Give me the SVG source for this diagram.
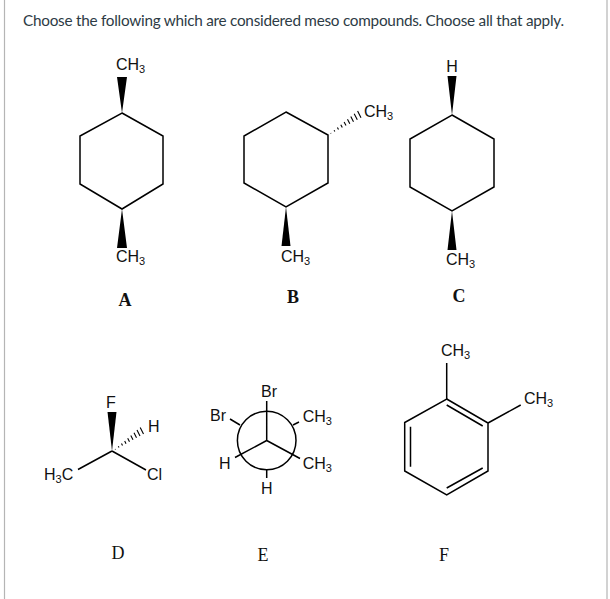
<svg xmlns="http://www.w3.org/2000/svg" width="610" height="599" viewBox="0 0 610 599">
<style>
.b{fill:none;stroke:#000;stroke-width:1.5;stroke-linejoin:miter}
.h{fill:none;stroke:#000;stroke-width:1.1}
.t{font-family:"Liberation Sans",Arial,sans-serif;font-size:16px;fill:#111}
.s{font-size:11px}
.l{font-family:"Liberation Serif","Times New Roman",serif;font-size:18px;fill:#111;text-anchor:middle}
.bd{font-weight:bold}
.q{font-family:Lato,"Open Sans",sans-serif;font-size:15.3px;fill:#2d3b45}
</style>
<rect width="610" height="599" fill="#fff"/>
<path d="M4.500 0V599M607 0V599" fill="none" stroke="#b5b5b5" stroke-width="1.200"/>
<text class="q" x="23" y="26" textLength="541" lengthAdjust="spacing">Choose the following which are considered meso compounds. Choose all that apply.</text>

<g id="A">
<path class="b" d="M122 113L163 136V184L122 209L80 184V136Z"/>
<path d="M122 113L117 77H127ZM122 209L117 248H127Z"/>
<text class="t" x="116" y="69.500">CH<tspan class="s" dy="3">3</tspan></text>
<text class="t" x="116" y="262">CH<tspan class="s" dy="3">3</tspan></text>
<text class="l bd" x="125" y="306">A</text>
</g>

<g id="B">
<path class="b" d="M286 112L328 135V183L286 207L244 183V136Z"/>
<path d="M286 207L281.500 246H290.500Z"/>
<path class="h" d="M331 133.500l-.3-.6M334.800 131.500l-.7-1.300M338.500 129.500l-1.100-2.100M342.300 127.600l-1.500-2.900M346 125.600l-1.900-3.700M349.800 123.700l-2.300-4.500M353.500 121.700l-2.700-5.300M357.300 119.800l-3.100-6.100M361 117.800l-3.400-6.800"/>
<text class="t" x="364" y="117">CH<tspan class="s" dy="3">3</tspan></text>
<text class="t" x="281" y="262">CH<tspan class="s" dy="3">3</tspan></text>
<text class="l bd" x="293" y="303">B</text>
</g>

<g id="C">
<path class="b" d="M452 115L494 139V187L452 211L410 187V139Z"/>
<path d="M452 115L447.500 76H456.500ZM452 211L447.500 250H456.500Z"/>
<text class="t" x="452" y="72" text-anchor="middle">H</text>
<text class="t" x="446" y="265">CH<tspan class="s" dy="3">3</tspan></text>
<text class="l bd" x="459" y="302">C</text>
</g>

<g id="D">
<path class="b" d="M112 451L78 469.500M112 451L146 470"/>
<path d="M112 451L107.500 412H116.500Z"/>
<path class="h" d="M115.500 449.500l-.3-.6M119 447.500l-.7-1.300M122.500 445.600l-1-2M126 443.700l-1.300-2.800M129.500 441.700l-1.800-3.500M133 439.800l-2.200-4.300M136.500 437.800l-2.500-5M140 435.900l-3-5.800M143.500 433.900l-3.300-6.500"/>
<text class="t" x="111" y="407.500" text-anchor="middle">F</text>
<text class="t" x="148" y="432">H</text>
<text class="t" x="44" y="480">H<tspan class="s" dy="3">3</tspan><tspan dy="-3">C</tspan></text>
<text class="t" x="147" y="480">Cl</text>
<text class="l" x="118" y="559">D</text>
</g>

<g id="E">
<circle class="b" cx="266.700" cy="440.500" r="29.300"/>
<path class="b" d="M266.700 440.500V401M266.700 440.500L235 457.500M266.700 440.500L300 458.500M230 419L240 425M293 425L299 422M266.700 470V478"/>
<text class="t" x="261" y="397">Br</text>
<text class="t" x="210" y="421">Br</text>
<text class="t" x="302.700" y="421.700">CH<tspan class="s" dy="3">3</tspan></text>
<text class="t" x="219" y="469">H</text>
<text class="t" x="302.700" y="469">CH<tspan class="s" dy="3">3</tspan></text>
<text class="t" x="266.700" y="494" text-anchor="middle">H</text>
<text class="l" x="263" y="561">E</text>
</g>

<g id="F">
<path class="b" d="M446.700 399L488 423V471L446.700 495L404.700 471V422.500Z"/>
<path class="b" d="M446.700 405L482.700 426M410.500 426.700V466.700M446.700 488L482.700 468M446.700 399V363M488 423L520.700 405"/>
<text class="t" x="441" y="356">CH<tspan class="s" dy="3">3</tspan></text>
<text class="t" x="524" y="404">CH<tspan class="s" dy="3">3</tspan></text>
<text class="l" x="444" y="561">F</text>
</g>
</svg>
